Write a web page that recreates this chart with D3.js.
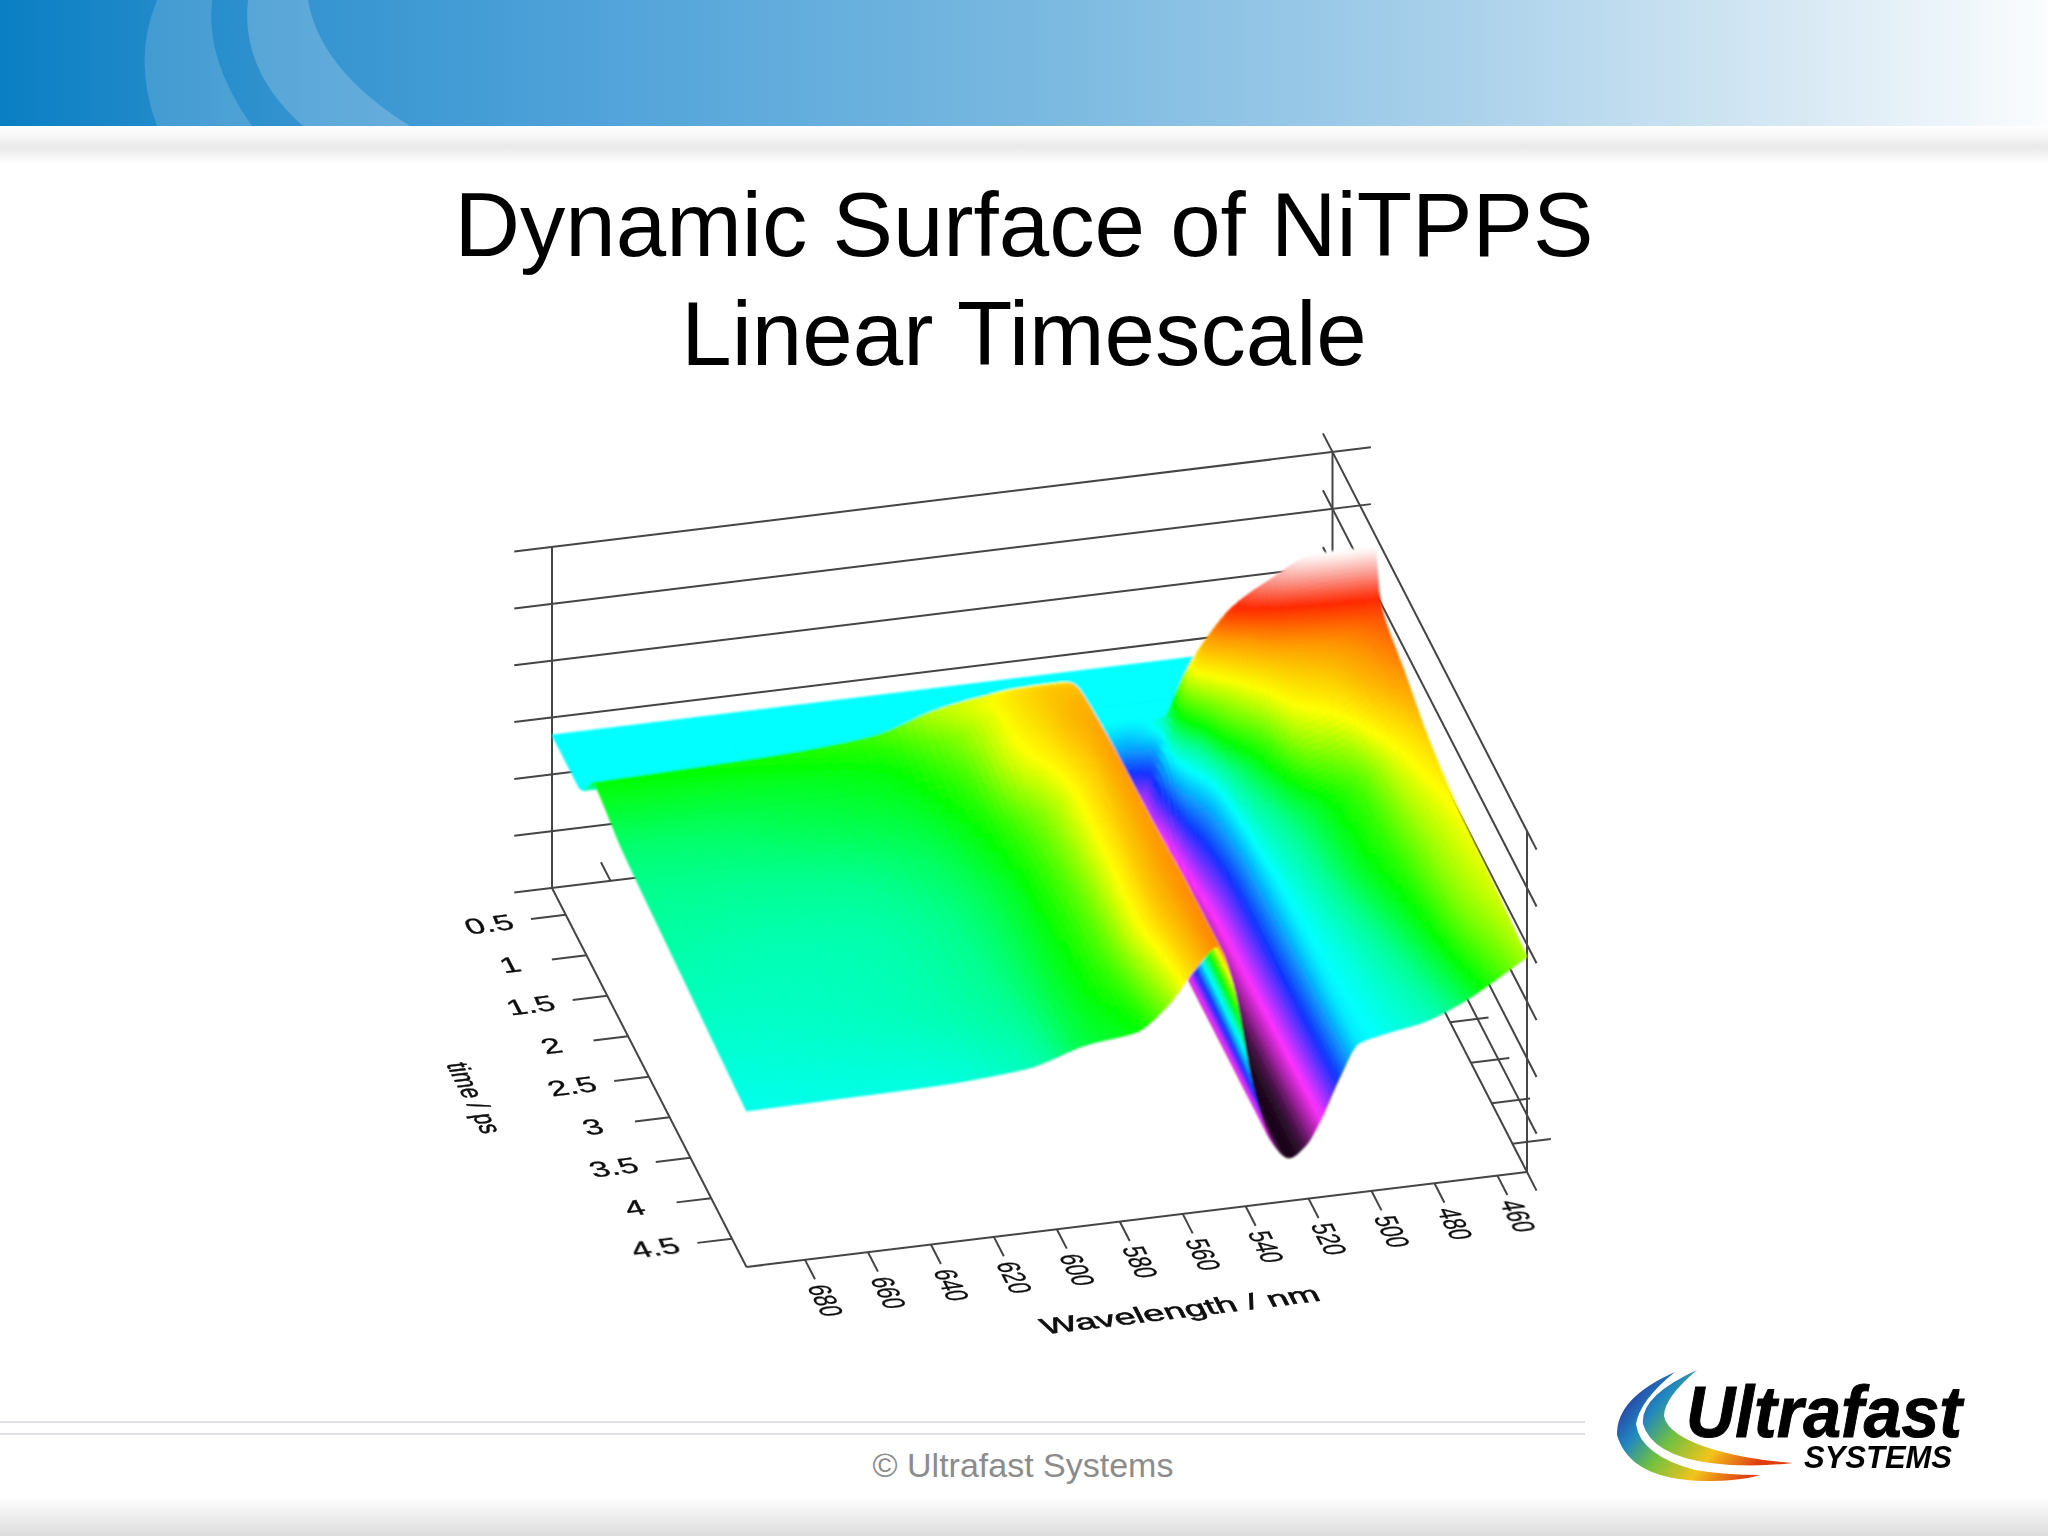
<!DOCTYPE html>
<html>
<head>
<meta charset="utf-8">
<title>Dynamic Surface of NiTPPS</title>
<script src="https://cdn.jsdelivr.net/npm/d3@7"></script>
<style>
  html, body { margin: 0; padding: 0; background: #fff; }
  svg { display: block; }
  text { font-family: "Liberation Sans", Arial, sans-serif; }
</style>
</head>
<body>
<svg id="slide" width="2048" height="1536"></svg>
<script>
// values: transient absorption (mOD) per delay time
var wavelengths = [698.6, 670, 640, 610, 590, 575, 565, 556, 549, 544, 538, 532, 526, 521, 516, 510, 504, 495, 484, 472, 462, 450.6];
var times = [0.17, 0.8, 0.95, 1.05, 1.2, 1.3, 1.45, 1.85, 2.5, 3.2, 4, 4.85];

var dA_017 = [0, 0, 0, 0, 0, 0, 0, 0, 0, 0, 0, 0, 0, 0, 0, 0, 0, 0, 0, 0, 0, 0];
var dA_080 = [0, 0, 0, 0, 0, 0, 0, 0, 0, 0, 0, 0, 0, 0, 0, 0, 0, 0, 0, 0, 0, 0];
var dA_095 = [0.8, 0.8, 0.9, 1.0, 1.4, 1.7, 1.9, 2.0, 2.0, 1.2, 0.3, -1, -2, -1, 0.6, 2, 3.4, 4.8, 5.6, 6.2, 6.6, 6.6];
var dA_105 = [2.0, 2.2, 2.6, 3.4, 4.9, 5.9, 6.3, 6.4, 6.4, 3.6, -0.5, -5, -9, -6, 0.5, 5.5, 8.4, 11.2, 13, 14.2, 14.8, 14.8];
var dA_120 = [3.4, 3.6, 3.8, 4.4, 6.4, 7.2, 7.7, 7.8, 7.8, 4, -1, -7, -11, -6, 1, 6.5, 10, 13.3, 15.4, 17.3, 17.6, 17.4];
var dA_130 = [3.3, 3.3, 3.5, 4.0, 6.0, 7.4, 8.4, 8.6, 8.6, 5, -1, -8, -11, -7, 0.8, 5, 7.5, 10, 12.2, 13, 13.4, 13.6];
var dA_145 = [3.0, 3.0, 3.1, 3.5, 5.2, 7.2, 8.6, 9.3, 9.4, 5.5, -1, -8.5, -11, -8.5, -1, 2, 5, 7.5, 9.5, 10.5, 11.2, 12.2];
var dA_185 = [2.2, 2.3, 2.6, 3.0, 4.2, 7.0, 8.3, 9.6, 10, 5.5, -1, -9, -11, -9.5, -5, -1.5, 1.5, 3.8, 6.8, 8, 9.6, 11];
var dA_250 = [1.7, 1.7, 1.8, 2.3, 3.4, 5.2, 7, 9, 10.4, 6, -1, -9, -11, -10, -7, -3, 0.3, 1.8, 3.2, 4.6, 6.8, 8.8];
var dA_320 = [1.3, 1.2, 1.3, 1.9, 3, 4.8, 7, 9.2, 10.5, 6.5, -1, -9, -11, -10, -7.2, -3.2, -0.2, 1.2, 2.8, 4.2, 6, 7.6];
var dA_400 = [0.8, 0.9, 1.1, 1.7, 3, 4.6, 7.2, 9.6, 10.8, 7.5, -1.5, -9, -11, -10, -7.3, -3.4, -0.3, 0.6, 1.8, 3.5, 5.5, 7];
var dA_485 = [0.3, 0.4, 0.5, 1.1, 2.8, 3.4, 5.6, 9, 11, 7, -3, -9, -11, -10, -7.5, -3.5, -0.4, 0.3, 0.9, 2.3, 4, 6.2];
var surfaceRows = [dA_017, dA_080, dA_095, dA_105, dA_120, dA_130, dA_145, dA_185, dA_250, dA_320, dA_400, dA_485];

var timeTicks = [0.5, 1, 1.5, 2, 2.5, 3, 3.5, 4, 4.5];
var waveTicks = [680, 660, 640, 620, 600, 580, 560, 540, 520, 500, 480, 460];
var zLevels = [-15.3, -9.62, -3.93, 1.75, 7.43, 13.12, 18.8];

var colorStops = [-11.5, -10.5, -9, -7.5, -4, 0, 1.8, 3.5, 7.5, 10.6, 13.3, 15.5, 17.6];
var colorValues = ["#050005", "#2a0a2a", "#a020a0", "#ff30ff", "#1030ff", "#00ffff", "#00ff90", "#00ff00", "#ffff00", "#ff9800", "#ff2800", "#fa9a90", "#ffffff"];

var svg = d3.select("#slide");
var defs = svg.append("defs");

// the source is a soft video frame
defs.append("filter").attr("id", "soft").attr("x", "-5%").attr("y", "-5%").attr("width", "110%").attr("height", "110%")
  .append("feGaussianBlur").attr("stdDeviation", 1);
defs.append("filter").attr("id", "softer").attr("x", "-5%").attr("y", "-5%").attr("width", "110%").attr("height", "110%")
  .append("feGaussianBlur").attr("stdDeviation", 0.6);

// ---- slide furniture ----
var bandGrad = defs.append("linearGradient").attr("id", "bandGrad");
[[0, "#0a7fc3"], [0.15, "#3594d0"], [0.3, "#52a4da"], [0.5, "#78b8e0"], [0.7, "#a6cfea"], [0.88, "#d8e9f4"], [1, "#fbfdfe"]].forEach(function (s) {
  bandGrad.append("stop").attr("offset", s[0]).attr("stop-color", s[1]);
});
var shadowGrad = defs.append("linearGradient").attr("id", "shadowGrad").attr("x2", 0).attr("y2", 1);
[[0, "#ffffff"], [0.3, "#f6f6f6"], [0.55, "#e9e9e9"], [1, "#ffffff"]].forEach(function (s) {
  shadowGrad.append("stop").attr("offset", s[0]).attr("stop-color", s[1]);
});
var footGrad = defs.append("linearGradient").attr("id", "footGrad").attr("x2", 0).attr("y2", 1);
[[0, "#ffffff"], [1, "#dddddd"]].forEach(function (s) {
  footGrad.append("stop").attr("offset", s[0]).attr("stop-color", s[1]);
});

svg.append("rect").attr("width", 2048).attr("height", 1536).attr("fill", "#fff");
svg.append("rect").attr("width", 2048).attr("height", 126).attr("fill", "url(#bandGrad)");
svg.append("path").attr("d", "M157,0 Q132,60 157,126 L252,126 Q205,60 212,0 Z").attr("fill", "#ffffff").attr("opacity", 0.16);
svg.append("path").attr("d", "M248,0 Q240,70 303,126 L410,126 Q320,70 308,0 Z").attr("fill", "#ffffff").attr("opacity", 0.2);
svg.append("rect").attr("y", 126).attr("width", 2048).attr("height", 38).attr("fill", "url(#shadowGrad)");
svg.append("rect").attr("y", 1496).attr("width", 2048).attr("height", 40).attr("fill", "url(#footGrad)");

svg.append("text").attr("x", 1024).attr("y", 256).attr("text-anchor", "middle").attr("font-size", 90.7).attr("fill", "#000").text("Dynamic Surface of NiTPPS");
svg.append("text").attr("x", 1024).attr("y", 365).attr("text-anchor", "middle").attr("font-size", 90.7).attr("fill", "#000").text("Linear Timescale");

svg.selectAll("line.foot").data([1422, 1434]).enter().append("line").attr("class", "foot")
  .attr("x1", 0).attr("x2", 1585).attr("y1", function (d) { return d; }).attr("y2", function (d) { return d; })
  .attr("stroke", "#d9d5e2").attr("stroke-width", 1.6);
svg.append("text").attr("x", 1023).attr("y", 1477).attr("text-anchor", "middle").attr("font-size", 34).attr("fill", "#8c8c8c").text("\u00a9 Ultrafast Systems");

// logo
var logo = svg.append("g").attr("filter", "url(#softer)");
var logoGrad = defs.append("linearGradient").attr("id", "logoGrad").attr("gradientUnits", "userSpaceOnUse")
  .attr("x1", 1625).attr("y1", 1385).attr("x2", 1745).attr("y2", 1480);
[[0, "#2c2a9c"], [0.25, "#2088c0"], [0.45, "#70c040"], [0.72, "#f2c41c"], [1, "#e03c10"]].forEach(function (s) {
  logoGrad.append("stop").attr("offset", s[0]).attr("stop-color", s[1]);
});
logo.append("path").attr("fill", "url(#logoGrad)")
  .attr("d", "M1675,1372 Q1616,1398 1617,1435 Q1630,1480 1705,1481 Q1740,1481 1760,1475 Q1725,1475 1695,1470 Q1640,1455 1636,1424 Q1640,1400 1675,1372 Z");
logo.append("path").attr("fill", "url(#logoGrad)")
  .attr("d", "M1697,1370 Q1640,1396 1643,1424 Q1652,1455 1710,1463 Q1750,1468 1793,1463 Q1750,1460 1715,1450 Q1668,1436 1664,1416 Q1664,1398 1697,1370 Z");
logo.append("text").attr("x", 1686).attr("y", 1437).attr("font-size", 72).attr("font-weight", "bold").attr("font-style", "italic")
  .attr("textLength", 276).attr("lengthAdjust", "spacingAndGlyphs").attr("fill", "#000").attr("stroke", "#000").attr("stroke-width", 1).text("Ultrafast");
logo.append("text").attr("x", 1804).attr("y", 1468).attr("font-size", 32).attr("font-weight", "bold").attr("font-style", "italic")
  .attr("textLength", 148).attr("lengthAdjust", "spacingAndGlyphs").attr("fill", "#000").text("SYSTEMS");

// ---- oblique projection of the plot box ----
var wScale = d3.scaleLinear().domain([698.6, 450.6]).range([0, 1]);
var tScale = d3.scaleLinear().domain([0.17, 4.85]).range([0, 1]);
var zScale = d3.scaleLinear().domain([-15.3, 18.8]).range([0, 341]);
var wxScale = d3.scaleLinear().domain([0, 1]).range([0, 780.5]);
var wyScale = d3.scaleLinear().domain([0, 1]).range([0, -95]);
var txScale = d3.scaleLinear().domain([0, 1]).range([0, 194.5]);
var tyScale = d3.scaleLinear().domain([0, 1]).range([0, 379]);

function project(w, t, z) {
  var p = wScale(w), q = tScale(t);
  return [552 + wxScale(p) + txScale(q), 888 + wyScale(p) + tyScale(q) - zScale(z)];
}

var zFloor = zLevels[0], zTop = zLevels[zLevels.length - 1];
var wLeft = wavelengths[0], wRight = wavelengths[wavelengths.length - 1];
var tBack = times[0], tFront = times[times.length - 1];

var grid = svg.append("g").attr("stroke", "#444").attr("stroke-width", 2).attr("fill", "none").attr("filter", "url(#softer)");
function seg(a, b) {
  grid.append("path").attr("d", d3.line()([a, b]));
}

// back wall and right wall levels
zLevels.forEach(function (z) {
  seg(project(710.6, tBack, z), project(438.4, tBack, z));
  seg(project(wRight, -0.06, z), project(wRight, 5.08, z));
});
// verticals at the three visible corners
seg(project(wLeft, tBack, zFloor), project(wLeft, tBack, zTop));
seg(project(wRight, tBack, zFloor), project(wRight, tBack, zTop));
seg(project(wRight, tFront, zFloor), project(wRight, tFront, zTop));
// floor edges
seg(project(wLeft, tBack, zFloor), project(wLeft, tFront, zFloor));
seg(project(wLeft, tFront, zFloor), project(wRight, tFront, zFloor));
// ticks
timeTicks.forEach(function (t) {
  seg(project(wLeft, t, zFloor), project(709.6, t, zFloor));
  seg(project(wRight, t, zFloor), project(438.4, t, zFloor));
});
waveTicks.forEach(function (w) {
  seg(project(w, tFront, zFloor), project(w, 5.09, zFloor));
  seg(project(w, tBack, zFloor), project(w, -0.06, zFloor));
});

// ---- surface ----
// shape-preserving hermite curve through the read values, used only to shade between them
function hermite(xs, ys) {
  var n = xs.length, d = [], m = [];
  for (var i = 0; i < n - 1; i++) d.push((ys[i + 1] - ys[i]) / (xs[i + 1] - xs[i]));
  m[0] = d[0]; m[n - 1] = d[n - 2];
  for (i = 1; i < n - 1; i++) {
    m[i] = d[i - 1] * d[i] <= 0 ? 0 : 2 * d[i - 1] * d[i] / (d[i - 1] + d[i]);
  }
  return function (x) {
    var k = Math.min(n - 2, Math.max(0, d3.bisectRight(xs, x) - 1));
    var h = xs[k + 1] - xs[k], s = (x - xs[k]) / h;
    var s2 = s * s, s3 = s2 * s;
    return (2 * s3 - 3 * s2 + 1) * ys[k] + (s3 - 2 * s2 + s) * h * m[k] + (-2 * s3 + 3 * s2) * ys[k + 1] + (s3 - s2) * h * m[k + 1];
  };
}

function subdivide(xs, n) {
  var out = [];
  for (var i = 0; i < xs.length - 1; i++) {
    for (var j = 0; j < n; j++) out.push(xs[i] + (xs[i + 1] - xs[i]) * j / n);
  }
  out.push(xs[xs.length - 1]);
  return out;
}

var color = d3.scaleLinear().domain(colorStops).range(colorValues).clamp(true);

var wPos = wavelengths.map(wScale);
var fineW = subdivide(wPos, 8);
var fineT = subdivide(times, 14);
var rowFns = surfaceRows.map(function (r) { return hermite(wPos, r); });
var columns = fineW.map(function (p) {
  return hermite(times, rowFns.map(function (f) { return f(p); }));
});
var mesh = fineT.map(function (t) {
  return columns.map(function (f) { return f(t); });
});

var quads = [];
for (var it = 0; it < fineT.length - 1; it++) {
  // near corner of the box is the low-time-axis end: paint far wavelengths first
  for (var iw = fineW.length - 2; iw >= 0; iw--) {
    quads.push({ it: it, iw: iw });
  }
}

function corner(it, iw) {
  return project(wScale.invert(fineW[iw]), fineT[it], mesh[it][iw]);
}

svg.append("g").attr("filter", "url(#soft)").selectAll("path").data(quads).enter().append("path")
  .attr("d", function (d) {
    return "M" + corner(d.it, d.iw) + "L" + corner(d.it, d.iw + 1) + "L" + corner(d.it + 1, d.iw + 1) + "L" + corner(d.it + 1, d.iw) + "Z";
  })
  .each(function (d) {
    var c = color((mesh[d.it][d.iw] + mesh[d.it][d.iw + 1] + mesh[d.it + 1][d.iw] + mesh[d.it + 1][d.iw + 1]) / 4);
    d3.select(this).attr("fill", c).attr("stroke", c).attr("stroke-width", 0.8);
  });

// ---- labels lying in the floor plane ----
var aHat = [0.9926, -0.1208], bHat = [0.4566, 0.8897];
var labels = svg.append("g").attr("filter", "url(#softer)");
function floorText(pos, ux, uy, sx, sy, str, weight) {
  return labels.append("text")
    .attr("transform", "matrix(" + [ux[0] * sx, ux[1] * sx, uy[0] * sy, uy[1] * sy, pos[0], pos[1]].join(",") + ")")
    .attr("text-anchor", "middle").attr("dy", "0.36em").attr("font-size", 20).attr("fill", "#111")
    .attr("stroke", "#111").attr("stroke-width", weight).text(str);
}
var minusA = [-aHat[0], -aHat[1]];

timeTicks.forEach(function (t) {
  floorText(project(723, t, zFloor), aHat, bHat, 1.7, 1.18, String(t), 0.3);
});
waveTicks.forEach(function (w) {
  floorText(project(w, 5.35, zFloor), bHat, minusA, 1.05, 1.55, String(w), 0.25);
});
floorText(project(575.6, 5.96, zFloor), aHat, bHat, 1.87, 1.2, "Wavelength / nm", 0.5);
floorText(project(753.9, 2.5, zFloor), bHat, minusA, 1.05, 1.5, "time / ps", 0.4);
</script>
</body>
</html>
